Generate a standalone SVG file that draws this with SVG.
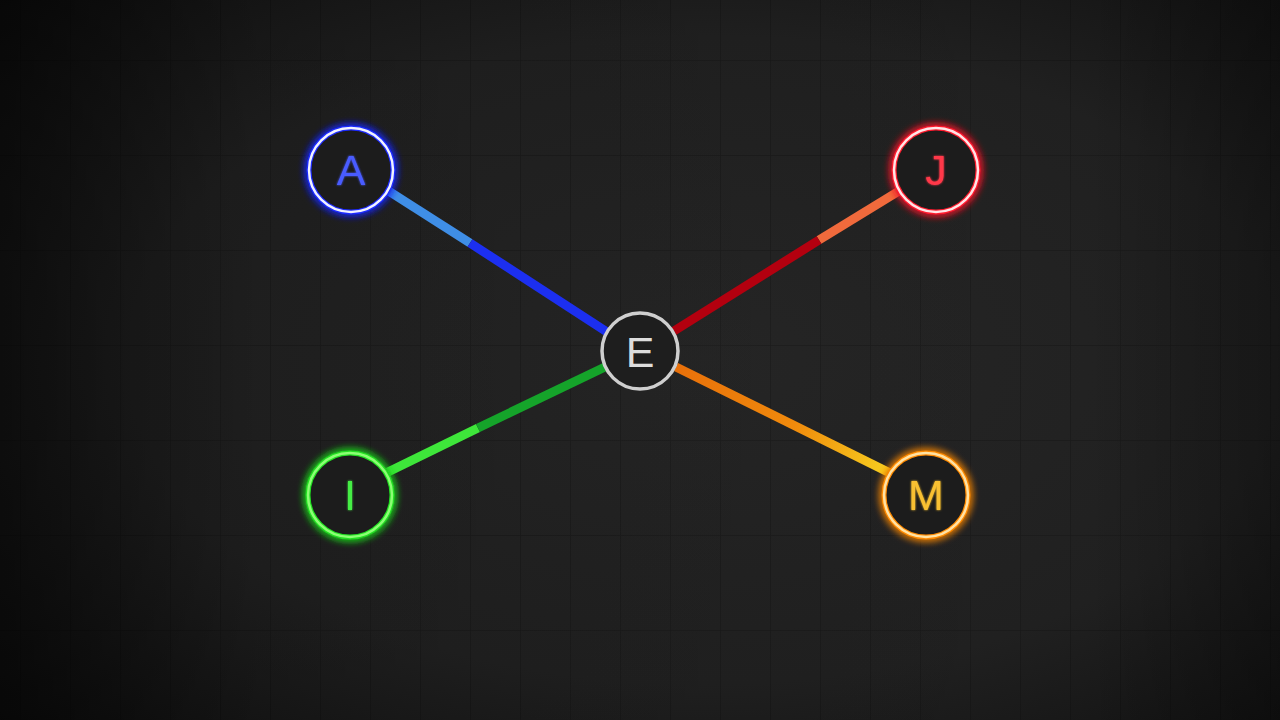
<svg xmlns="http://www.w3.org/2000/svg" width="1280" height="720" viewBox="0 0 1280 720">
<defs>
<radialGradient id="bg" cx="0.55" cy="0.5" r="0.75">
<stop offset="0" stop-color="#262626"/>
<stop offset="0.6" stop-color="#202020"/>
<stop offset="1" stop-color="#0e0e0e"/>
</radialGradient>
<linearGradient id="vig" x1="0" y1="0" x2="1" y2="0">
<stop offset="0" stop-color="#000" stop-opacity="0.5"/>
<stop offset="0.2" stop-color="#000" stop-opacity="0.1"/>
<stop offset="0.85" stop-color="#000" stop-opacity="0"/>
<stop offset="1" stop-color="#000" stop-opacity="0.3"/>
</linearGradient>
<pattern id="grid" width="50" height="95" patternUnits="userSpaceOnUse" x="20" y="60">
<path d="M0 0V95M0 0H50" fill="none" stroke="#000" stroke-opacity="0.22" stroke-width="1.5"/>
</pattern>
<linearGradient id="gM" gradientUnits="userSpaceOnUse" x1="676" y1="368" x2="890" y2="472">
<stop offset="0" stop-color="#e8700a"/>
<stop offset="0.55" stop-color="#f08a0c"/>
<stop offset="1" stop-color="#f7d020"/>
</linearGradient>
<filter id="glow" x="-50%" y="-50%" width="200%" height="200%">
<feGaussianBlur in="SourceGraphic" stdDeviation="4" result="b"/>
<feMerge><feMergeNode in="b"/><feMergeNode in="b"/><feMergeNode in="SourceGraphic"/></feMerge>
</filter>
<filter id="tglow" x="-50%" y="-50%" width="200%" height="200%">
<feGaussianBlur in="SourceGraphic" stdDeviation="1.2" result="b"/>
<feMerge><feMergeNode in="b"/><feMergeNode in="SourceGraphic"/></feMerge>
</filter>
</defs>
<style>
.halo{fill:#1c1c1c;stroke-width:5}
.core{fill:none;stroke-width:2.5}
.lbl{font-family:"Liberation Sans",Arial,sans-serif;font-size:43px;text-anchor:middle;dominant-baseline:central}
.edge{stroke-width:9;stroke-linecap:butt;fill:none}
</style>
<rect width="1280" height="720" fill="url(#bg)"/>
<rect width="1280" height="720" fill="url(#grid)"/>
<rect width="1280" height="720" fill="url(#vig)"/>
<g id="connectors">
<line class="edge" x1="387" y1="190" x2="470" y2="243" stroke="#3f8ee6"/>
<line class="edge" x1="470" y1="243" x2="607" y2="332" stroke="#1c2ff0"/>
<line class="edge" x1="899" y1="191" x2="819" y2="240" stroke="#f06a3c"/>
<line class="edge" x1="819" y1="240" x2="674" y2="331" stroke="#b3000f"/>
<line class="edge" x1="388" y1="472" x2="478" y2="428" stroke="#3ee63a"/>
<line class="edge" x1="478" y1="428" x2="605" y2="367" stroke="#15a42a"/>
<line class="edge" x1="676" y1="367" x2="890" y2="473" stroke="url(#gM)"/>
</g>
<g id="node-A">
<circle class="halo" cx="351" cy="170" r="42" stroke="#1f2cff" filter="url(#glow)"/>
<circle class="core" cx="351" cy="170" r="42" stroke="#f0f2ff"/>
<text class="lbl" x="351" y="170" fill="#4a5cff" filter="url(#tglow)">A</text>
</g>
<g id="node-J">
<circle class="halo" cx="936" cy="170" r="42" stroke="#ff1a2e" filter="url(#glow)"/>
<circle class="core" cx="936" cy="170" r="42" stroke="#ffe4e6"/>
<text class="lbl" x="936" y="170" fill="#ff3848" filter="url(#tglow)">J</text>
</g>
<g id="node-E">
<circle cx="640" cy="351" r="38" fill="#1e1e1e" stroke="#cfcfcf" stroke-width="3.5"/>
<text class="lbl" x="640" y="352" fill="#dddddd">E</text>
</g>
<g id="node-I">
<circle class="halo" cx="350" cy="495" r="42" stroke="#22e022" filter="url(#glow)"/>
<circle class="core" cx="350" cy="495" r="42" stroke="#8cff74"/>
<text class="lbl" x="350" y="495" fill="#44ee44" filter="url(#tglow)">I</text>
</g>
<g id="node-M">
<circle class="halo" cx="926" cy="495" r="42" stroke="#ff8a00" filter="url(#glow)"/>
<circle class="core" cx="926" cy="495" r="42" stroke="#ffe2a4"/>
<text class="lbl" x="926" y="495" fill="#f8c030" filter="url(#tglow)">M</text>
</g>
</svg>
